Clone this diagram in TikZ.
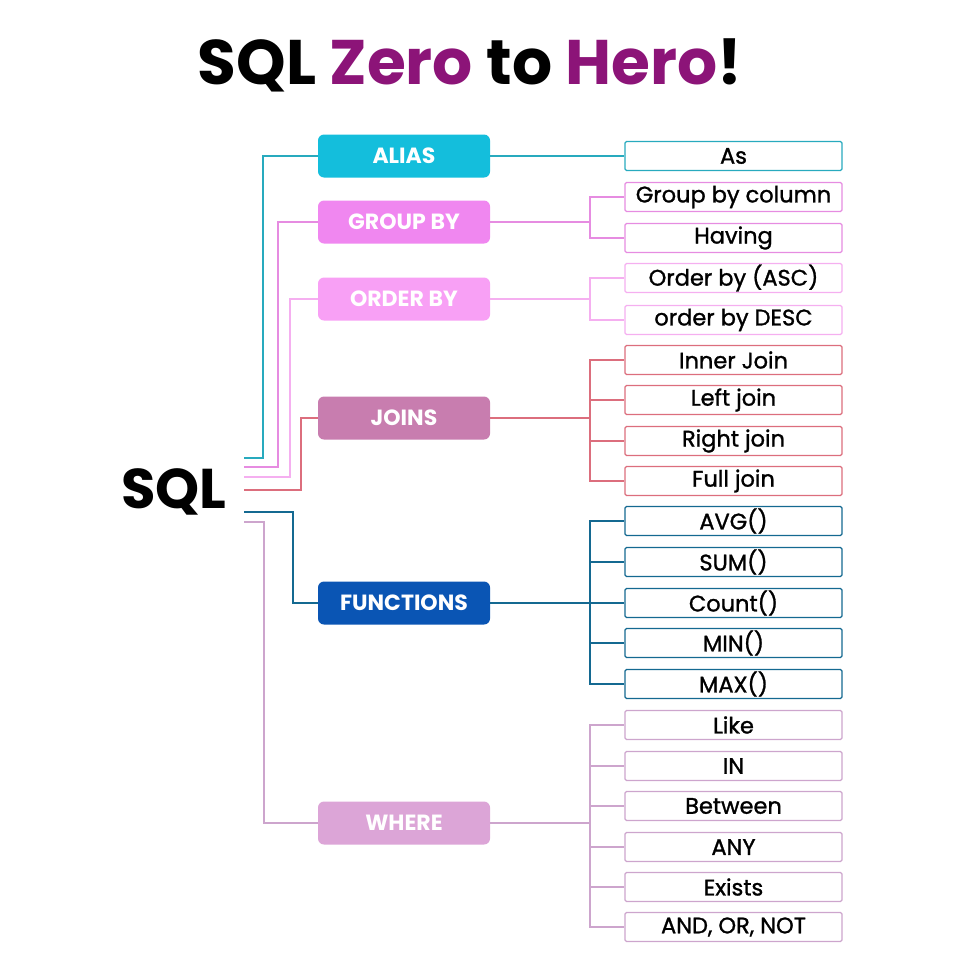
\documentclass[tikz,border=0pt]{standalone}
\usepackage{fontspec}
\setmainfont{Poppins}
\newfontfamily\leaffont{Poppins}[FakeBold=1.2]
\usepackage{xcolor}
\usetikzlibrary{positioning,calc}
\definecolor{aliascol}{RGB}{20,190,220}
\definecolor{groupcol}{RGB}{240,135,240}
\definecolor{ordercol}{RGB}{248,160,245}
\definecolor{joinscol}{RGB}{200,125,175}
\definecolor{funccol}{RGB}{10,85,180}
\definecolor{wherecol}{RGB}{220,165,215}
\definecolor{aliasln}{RGB}{40,170,190}
\definecolor{groupln}{RGB}{230,140,225}
\definecolor{orderln}{RGB}{245,175,240}
\definecolor{joinsln}{RGB}{220,110,125}
\definecolor{funcln}{RGB}{20,105,145}
\definecolor{whereln}{RGB}{205,165,205}
\definecolor{titlecol}{RGB}{140,20,120}

\begin{document}
\begin{tikzpicture}[
	%	style def
    x=1pt, y=-1pt,
    important line/.style={line width=1.6pt},
    topic/.style={rounded corners=6pt, minimum width=172pt, minimum height=43pt,
        text=white, font=\bfseries\fontsize{22}{22}\selectfont, inner sep=0pt},
    leaf/.style={draw, line width=1.3pt, rounded corners=1.5pt, minimum width=217pt,
        minimum height=29pt, fill=white, text=black, font=\leaffont\fontsize{22.5}{22.5}\selectfont, inner sep=0pt}
    ]
    \useasboundingbox (0,0) rectangle (963,961);

	% title and root
    \node (title) at (470,65) {\bfseries\fontsize{63}{63}\selectfont SQL \textcolor{titlecol}{Zero} to \textcolor{titlecol}{Hero}!};
    \node (sql) at (174,492) {\bfseries\fontsize{56}{56}\selectfont SQL};

	% topic boxes
    \node[topic, fill=aliascol] (alias) at (404,156) {ALIAS};
    \node[topic, fill=groupcol] (group) at (404,222) {GROUP BY};
    \node[topic, fill=ordercol] (order) at (404,299) {ORDER BY};
    \node[topic, fill=joinscol] (joins) at (404,418) {JOINS};
    \node[topic, fill=funccol] (func) at (404,603) {FUNCTIONS};
    \node[topic, fill=wherecol] (where) at (404,823) {WHERE};

	% root connections
    \coordinate (r1) at (244,458);
    \coordinate (r2) at (244,467);
    \coordinate (r3) at (244,477);
    \coordinate (r4) at (244,490);
    \coordinate (r5) at (244,512);
    \coordinate (r6) at (244,522);
    \draw[important line, aliasln] (r1) -| (263,156) -- (alias.west);
    \draw[important line, groupln] (r2) -| (278,222) -- (group.west);
    \draw[important line, orderln] (r3) -| (290,299) -- (order.west);
    \draw[important line, joinsln] (r4) -| (301,418) -- (joins.west);
    \draw[important line, funcln] (r5) -| (293,603) -- (func.west);
    \draw[important line, whereln] (r6) -| (264,823) -- (where.west);

	% leaves
    \foreach \name/\y/\txt/\col in {
        as/156/As/aliasln,
        gcol/197/Group by column/groupln, having/238/Having/groupln,
        asc/278/Order by (ASC)/orderln, desc/320/order by DESC/orderln,
        inner/360/Inner Join/joinsln, left/400/Left join/joinsln,
        right/441/Right join/joinsln, full/481/Full join/joinsln,
        avg/521/AVG()/funcln, sum/562/SUM()/funcln, count/603/Count()/funcln,
        min/643/MIN()/funcln, max/684/MAX()/funcln,
        like/725/Like/whereln, in/766/IN/whereln, between/806/Between/whereln,
        any/847/ANY/whereln, exists/887/Exists/whereln, andor/927/{AND, OR, NOT}/whereln}
        \node[leaf, draw=\col] (\name) at (733.5,\y) {\txt};

	% topic to leaves
    \draw[important line, aliasln] (alias.east) -- (as.west);
    \foreach \t/\ls/\col in {group/{gcol,having}/groupln, order/{asc,desc}/orderln,
        joins/{inner,left,right,full}/joinsln, func/{avg,sum,count,min,max}/funcln,
        where/{like,in,between,any,exists,andor}/whereln}
    {
        \draw[important line, \col] (\t.east) -- (\t.east -| 590,0);
        \foreach \l in \ls
            \draw[important line, \col] (\t.east -| 590,0) |- (\l.west);
    }
\end{tikzpicture}
\end{document}
